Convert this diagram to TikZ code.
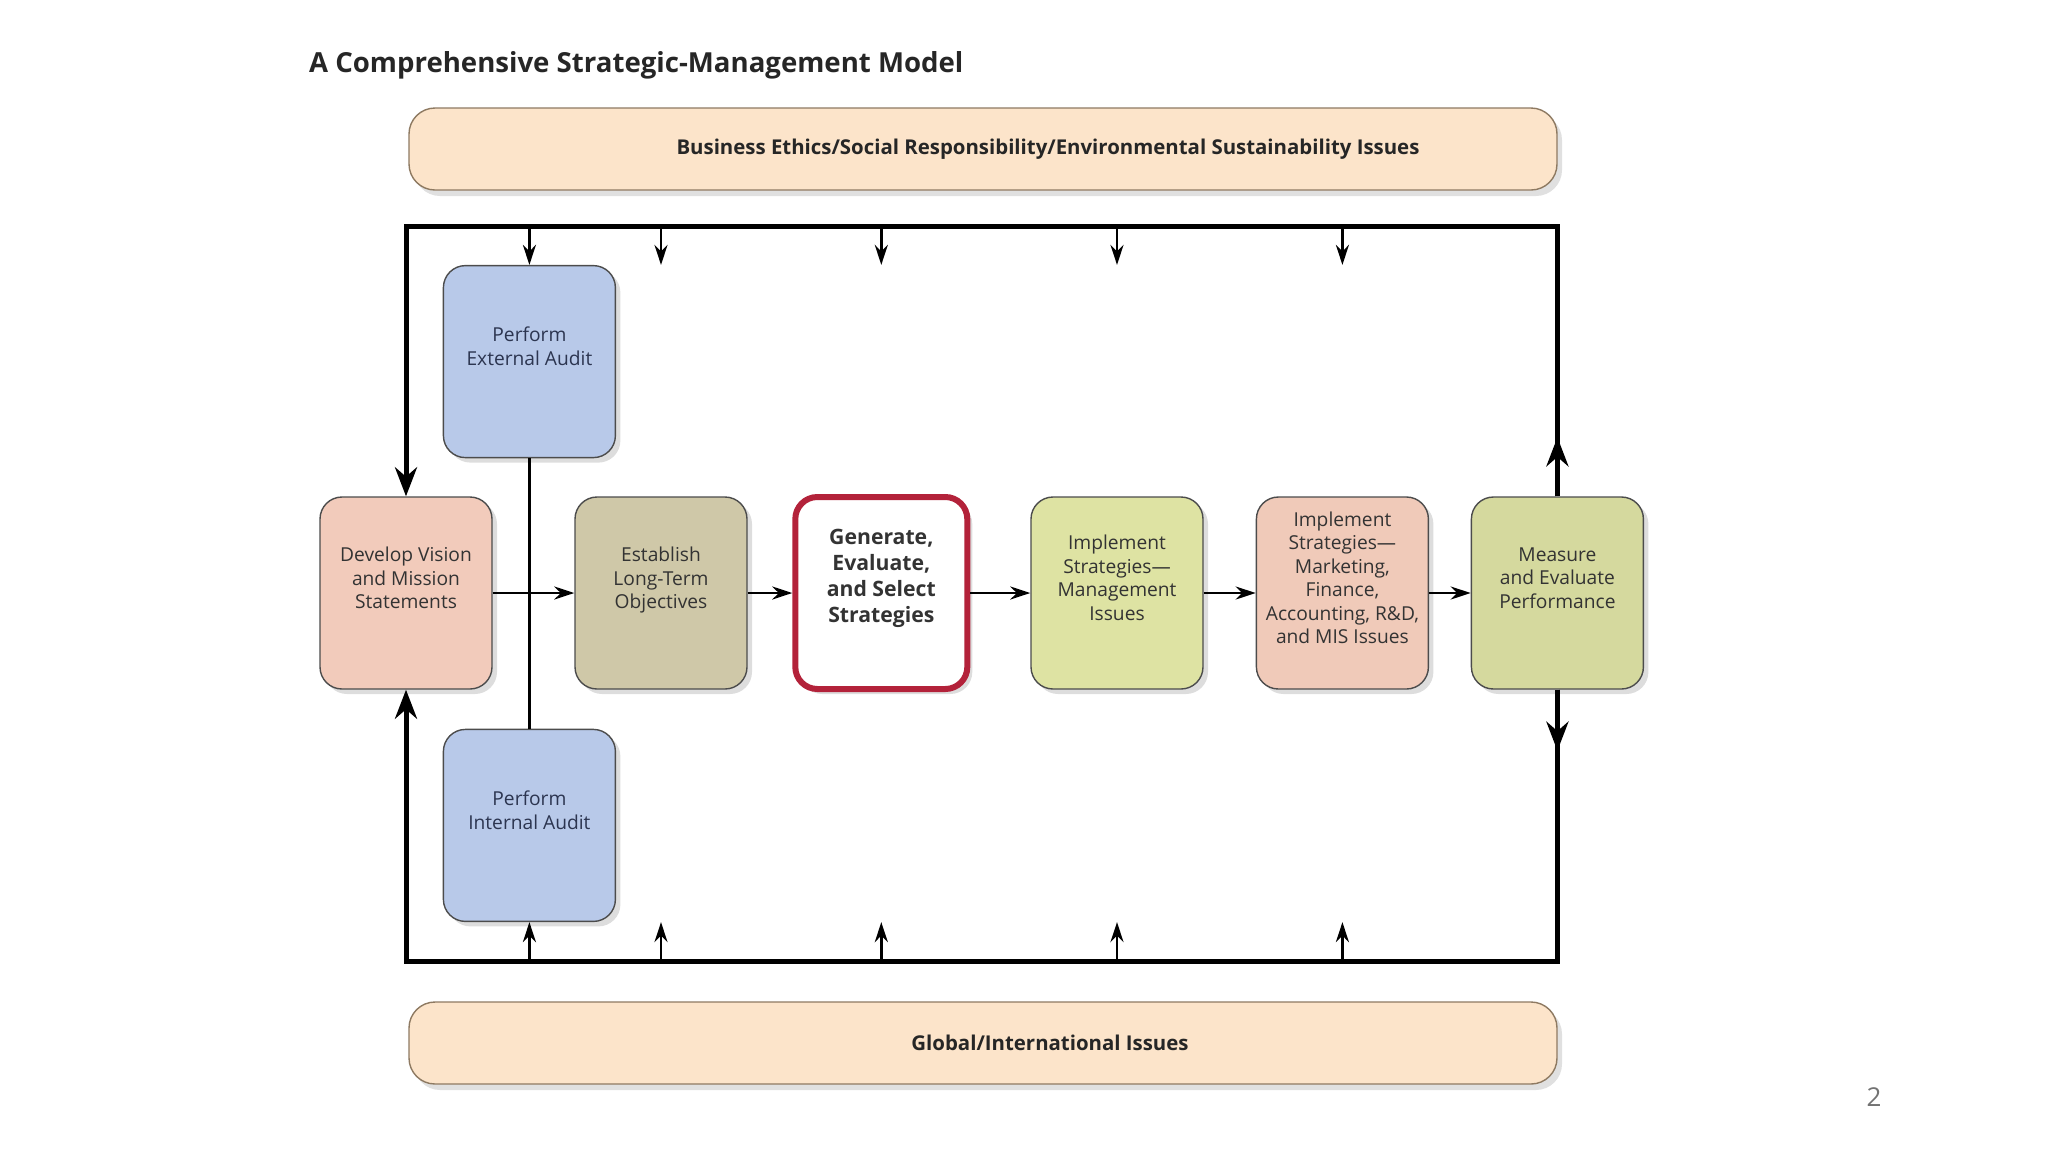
\documentclass[tikz,border=0pt]{standalone}
\usepackage{fontspec}
\setmainfont{Open Sans}
\usetikzlibrary{arrows.meta, positioning, shadows, calc}
\usepackage{xcolor}

\definecolor{peach}{HTML}{FCE4CA}
\definecolor{peachline}{HTML}{8E7A62}
\definecolor{auditblue}{HTML}{B8C9E9}
\definecolor{audittext}{HTML}{2C3550}
\definecolor{visionpink}{HTML}{F2CBBB}
\definecolor{objtan}{HTML}{CFC8A8}
\definecolor{mgmtgreen}{HTML}{DEE3A3}
\definecolor{mktpink}{HTML}{F0CAB9}
\definecolor{evalgreen}{HTML}{D5D99E}
\definecolor{selectred}{HTML}{B3223A}

\begin{document}
\begin{tikzpicture}[
    x=0.5pt, y=-0.5pt,
    stage/.style={draw=black!70, rectangle, rounded corners=11pt, minimum width=86pt,
                  minimum height=96pt, align=center, line width=0.7pt, text=black!80,
                  font=\fontsize{9.6}{11.75}\selectfont,
                  drop shadow={shadow xshift=2.5pt, shadow yshift=-2.5pt, opacity=0.22, fill=black!60}},
    banner/.style={draw=peachline, fill=peach, rectangle, rounded corners=13pt, line width=0.7pt,
                   minimum width=574pt, minimum height=41pt,
                   drop shadow={shadow xshift=2.5pt, shadow yshift=-3pt, opacity=0.2, fill=black!60}},
    bannertext/.style={font=\bfseries\fontsize{10.2}{12}\selectfont, text=black!85},
    frameline/.style={line width=2.5pt, line join=miter},
    auditline/.style={line width=1.2pt},
    arrow/.style={-{Stealth[length=10pt, width=6.5pt]}, line width=1.4pt},
    bigarrow/.style={-{Stealth[length=14.5pt, width=11pt]}, line width=2.5pt},
    node distance=21pt,
]
\useasboundingbox (0,0) rectangle (2048,1152);

% title and the two issue banners
\node[font=\bfseries\fontsize{13.8}{16}\selectfont, text=black!85, anchor=west] (title) at (302,65)
     {A Comprehensive Strategic-Management Model};
\node[banner] (ethics) at (983,149) {};
\node[bannertext] (ethicstext) at (1048,149)
     {Business Ethics/Social Responsibility/Environmental Sustainability Issues};
\node[banner] (global) at (983,1043) {};
\node[bannertext] (globaltext) at (1050,1043) {Global/International Issues};

% main row of stages
\node[stage, fill=visionpink] (vision) at (406,593)
     {Develop Vision\\and Mission\\Statements\\\strut};
\node[stage, fill=objtan, right=40.8pt of vision] (objectives)
     {Establish\\Long-Term\\Objectives\\\strut};
\node[stage, fill=white, draw=selectred, line width=3pt, right=22.3pt of objectives,
      font=\bfseries\fontsize{10.6}{13}\selectfont] (select)
     {Generate,\\Evaluate,\\and Select\\Strategies\\\strut};
\node[stage, fill=mgmtgreen, right=30pt of select] (mgmt)
     {Implement\\Strategies---\\Management\\Issues\\\strut};
\node[stage, fill=mktpink, right=26pt of mgmt] (marketing)
     {Implement\\Strategies---\\Marketing,\\Finance,\\Accounting, R\&D,\\and MIS Issues\\\strut};
\node[stage, fill=evalgreen, right=20.8pt of marketing] (evaluate)
     {Measure\\and Evaluate\\Performance\\\strut};

% audits
\node[stage, fill=auditblue, text=audittext, above right=19pt and -25pt of vision] (extaudit)
     {Perform\\External Audit\\\strut};
\node[stage, fill=auditblue, text=audittext, below right=19.5pt and -25pt of vision] (intaudit)
     {Perform\\Internal Audit\\\strut};

\coordinate (frametop) at (0,226);
\coordinate (framebot) at (0,961);

% feedback loop
\draw[frameline] (evaluate.north) -- (evaluate |- frametop) -- (vision |- frametop) -- ([yshift=12pt]vision.north);
\draw[bigarrow] ([yshift=-8pt]vision |- frametop) -- (vision.north);
\draw[frameline] (evaluate.south) -- (evaluate |- framebot) -- (vision |- framebot) -- ([yshift=-12pt]vision.south);
\draw[bigarrow] ([yshift=8pt]vision |- framebot) -- (vision.south);
\draw[bigarrow] (evaluate.north) -- ++(0,-59);
\draw[bigarrow] (evaluate.south) -- ++(0,61);

% arrows from the frame to each stage
\foreach \s in {extaudit, objectives, select, mgmt, marketing} {
    \draw[arrow] (\s |- frametop) -- (\s |- extaudit.north);
    \draw[arrow] (\s |- framebot) -- (\s |- intaudit.south);
}

% audits and the flow along the row
\draw[auditline] (extaudit) -- (intaudit);
\draw[arrow] (vision) -- (objectives);
\draw[arrow] (objectives) -- (select);
\draw[arrow] (select) -- (mgmt);
\draw[arrow] (mgmt) -- (marketing);
\draw[arrow] (marketing) -- (evaluate);

\node[text=black!55, font=\fontsize{13}{15}\selectfont] (pagenum) at (1874,1097) {2};
\end{tikzpicture}
\end{document}
